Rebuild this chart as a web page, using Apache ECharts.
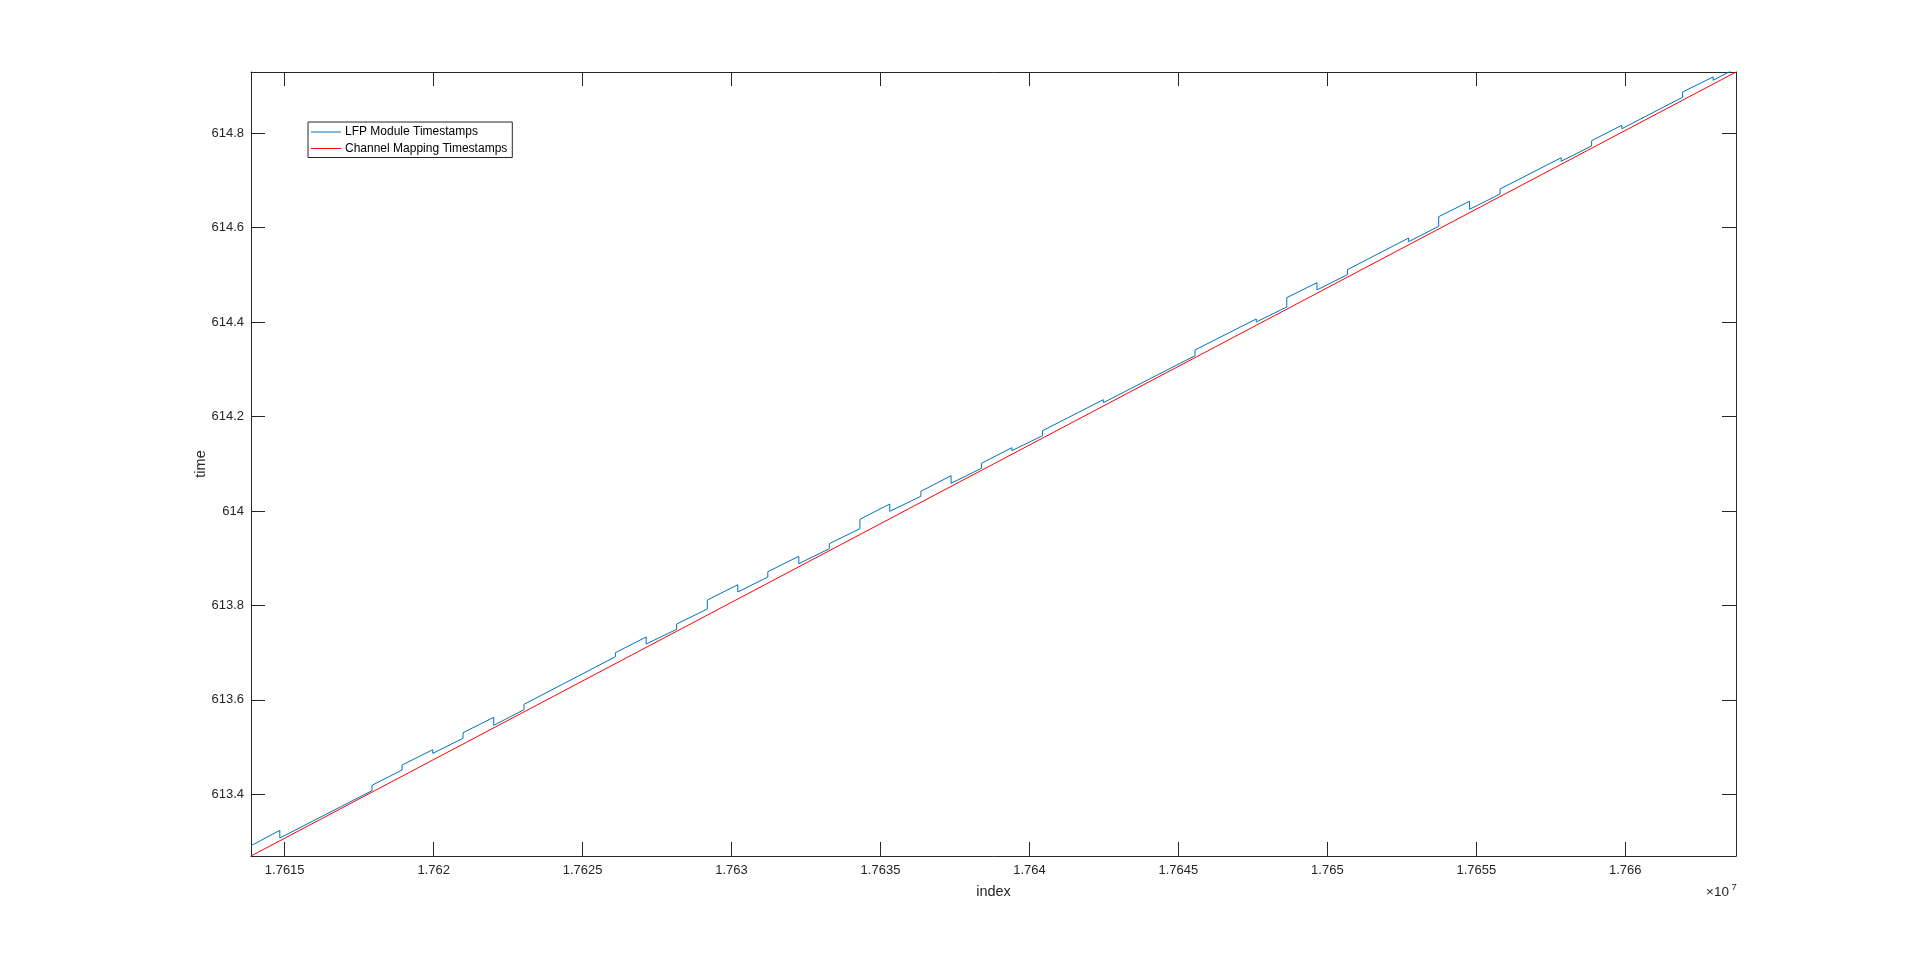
<!DOCTYPE html>
<html>
<head>
<meta charset="utf-8">
<title>LFP vs Channel Mapping Timestamps</title>
<script src="https://cdn.jsdelivr.net/npm/echarts@6/dist/echarts.min.js"></script>
<style>
  html, body { margin: 0; padding: 0; background: #ffffff; }
  #chart { width: 1920px; height: 963px; }
</style>
</head>
<body>
<div id="chart"></div>
<script>
// ---------------- data ----------------
const seriesNames = ['LFP Module Timestamps', 'Channel Mapping Timestamps'];

// LFP Module Timestamps: breakpoints of the stepped line (index, time)
const lfpIndex = [
  17613869,
  17614836, 17614836,
  17617930, 17617930,
  17618940, 17618940,
  17619970, 17619970,
  17620987, 17620987,
  17622017, 17622017,
  17623034, 17623034,
  17626101, 17626101,
  17627134, 17627134,
  17628158, 17628158,
  17629188, 17629188,
  17630211, 17630211,
  17631218, 17631218,
  17632258, 17632258,
  17633282, 17633282,
  17634309, 17634309,
  17635312, 17635312,
  17636356, 17636356,
  17637369, 17637369,
  17638389, 17638389,
  17639409, 17639409,
  17640440, 17640440,
  17642480, 17642480,
  17645557, 17645557,
  17647614, 17647614,
  17648638, 17648638,
  17649651, 17649651,
  17650675, 17650675,
  17652728, 17652728,
  17653738, 17653738,
  17654775, 17654775,
  17655799, 17655799,
  17657849, 17657849,
  17658872, 17658872,
  17659886, 17659886,
  17661926, 17661926,
  17662951, 17662951,
  17663718
];
const lfpTime = [
  613.2910,
  613.3236, 613.3073,
  613.4075, 613.4189,
  613.4513, 613.4619,
  613.4943, 613.4867,
  613.5185, 613.5303,
  613.5630, 613.5460,
  613.5791, 613.5905,
  613.6913, 613.6998,
  613.7331, 613.7182,
  613.7494, 613.7606,
  613.7924, 613.8114,
  613.8438, 613.8284,
  613.8601, 613.8714,
  613.9040, 613.8883,
  613.9201, 613.9307,
  613.9625, 613.9824,
  614.0148, 613.9993,
  614.0311, 614.0417,
  614.0747, 614.0586,
  614.0904, 614.1010,
  614.1340, 614.1277,
  614.1595, 614.1700,
  614.2357, 614.2294,
  614.3289, 614.3410,
  614.4067, 614.4003,
  614.4321, 614.4518,
  614.4835, 614.4681,
  614.5005, 614.5111,
  614.5782, 614.5704,
  614.6030, 614.6233,
  614.6560, 614.6390,
  614.6714, 614.6820,
  614.7483, 614.7407,
  614.7731, 614.7843,
  614.8169, 614.8097,
  614.8763, 614.8875,
  614.9193, 614.9123,
  614.9377
];

// Channel Mapping Timestamps: straight line (end points)
const chanIndex = [17613869, 17663718];
const chanTime = [613.2692, 614.9298];

// axis limits and ticks
const xLimits = [17613869, 17663718];
const yLimits = [613.2692, 614.9298];
const xTickValues = [17615000, 17620000, 17625000, 17630000, 17635000, 17640000, 17645000, 17650000, 17655000, 17660000];
const xTickLabels = ['1.7615', '1.762', '1.7625', '1.763', '1.7635', '1.764', '1.7645', '1.765', '1.7655', '1.766'];
const yTickValues = [613.4, 613.6, 613.8, 614.0, 614.2, 614.4, 614.6, 614.8];
const yTickLabels = ['613.4', '613.6', '613.8', '614', '614.2', '614.4', '614.6', '614.8'];

// ---------------- chart ----------------
const AX = '#262626';
const FONT = '"Liberation Sans", Arial, Helvetica, sans-serif';

const lfpData = lfpIndex.map((x, i) => [x, lfpTime[i]]);
const chanData = chanIndex.map((x, i) => [x, chanTime[i]]);

function xLabel(v) {
  const i = xTickValues.indexOf(v);
  return i >= 0 ? xTickLabels[i] : '';
}
function yLabel(v) {
  for (let i = 0; i < yTickValues.length; i++) {
    if (Math.abs(yTickValues[i] - v) < 1e-6) return yTickLabels[i];
  }
  return '';
}

const chart = echarts.init(document.getElementById('chart'), null, { renderer: 'canvas' });

const baseAxisLine = { show: true, onZero: false, lineStyle: { color: AX, width: 1 } };

chart.setOption({
  animation: false,
  backgroundColor: '#ffffff',
  textStyle: { fontFamily: FONT },
  grid: {
    left: 251, right: 184, top: 72, bottom: 107,
    outerBoundsMode: 'none',
    containLabel: false
  },
  legend: {
    orient: 'vertical',
    left: 308, top: 122,
    padding: [4, 5, 3, 3],
    itemGap: 4.5,
    itemWidth: 30,
    itemHeight: 1,
    icon: 'rect',
    borderColor: AX,
    borderWidth: 1,
    backgroundColor: '#ffffff',
    selectedMode: false,
    textStyle: { fontFamily: FONT, fontSize: 12, color: '#000000', padding: [0, 0, 0, -1] },
    data: seriesNames
  },
  xAxis: [
    {
      type: 'value', position: 'bottom',
      min: xLimits[0], max: xLimits[1],
      name: 'index', nameLocation: 'middle', nameGap: 28, nameMoveOverlap: false,
      nameTextStyle: { fontFamily: FONT, fontSize: 14.5, color: AX },
      axisLine: baseAxisLine,
      axisTick: { show: true, inside: true, length: 14, customValues: xTickValues, lineStyle: { color: AX } },
      axisLabel: { show: true, customValues: xTickValues, formatter: xLabel, margin: 8,
                   fontFamily: FONT, fontSize: 13, color: AX },
      splitLine: { show: false }
    },
    {
      type: 'value', position: 'top',
      min: xLimits[0], max: xLimits[1],
      axisLine: baseAxisLine,
      axisTick: { show: true, inside: true, length: 14, customValues: xTickValues, lineStyle: { color: AX } },
      axisLabel: { show: false },
      splitLine: { show: false }
    }
  ],
  yAxis: [
    {
      type: 'value', position: 'left',
      min: yLimits[0], max: yLimits[1],
      name: 'time', nameLocation: 'middle', nameGap: 43, nameRotate: 90, nameMoveOverlap: false,
      nameTextStyle: { fontFamily: FONT, fontSize: 14.5, color: AX },
      axisLine: baseAxisLine,
      axisTick: { show: true, inside: true, length: 14, customValues: yTickValues, lineStyle: { color: AX } },
      axisLabel: { show: true, customValues: yTickValues, formatter: yLabel, margin: 7,
                   fontFamily: FONT, fontSize: 13, color: AX },
      splitLine: { show: false }
    },
    {
      type: 'value', position: 'right',
      min: yLimits[0], max: yLimits[1],
      axisLine: baseAxisLine,
      axisTick: { show: true, inside: true, length: 14, customValues: yTickValues, lineStyle: { color: AX } },
      axisLabel: { show: false },
      splitLine: { show: false }
    }
  ],
  series: [
    {
      name: seriesNames[0], type: 'line', xAxisIndex: 0, yAxisIndex: 0,
      data: lfpData, showSymbol: false, symbol: 'none', clip: true,
      lineStyle: { color: '#0072BD', width: 1 }, itemStyle: { color: '#0072BD' },
      z: 3
    },
    {
      name: seriesNames[1], type: 'line', xAxisIndex: 0, yAxisIndex: 0,
      data: chanData, showSymbol: false, symbol: 'none', clip: true,
      lineStyle: { color: '#FF0000', width: 1 }, itemStyle: { color: '#FF0000' },
      z: 4
    }
  ],
  graphic: [
    {
      type: 'text', left: 1706, top: 885,
      style: { text: '×10', fontFamily: FONT, fontSize: 13.5, fill: AX }
    },
    {
      type: 'text', left: 1731.5, top: 882,
      style: { text: '7', fontFamily: FONT, fontSize: 9.5, fill: AX }
    }
  ]
});
</script>
</body>
</html>
